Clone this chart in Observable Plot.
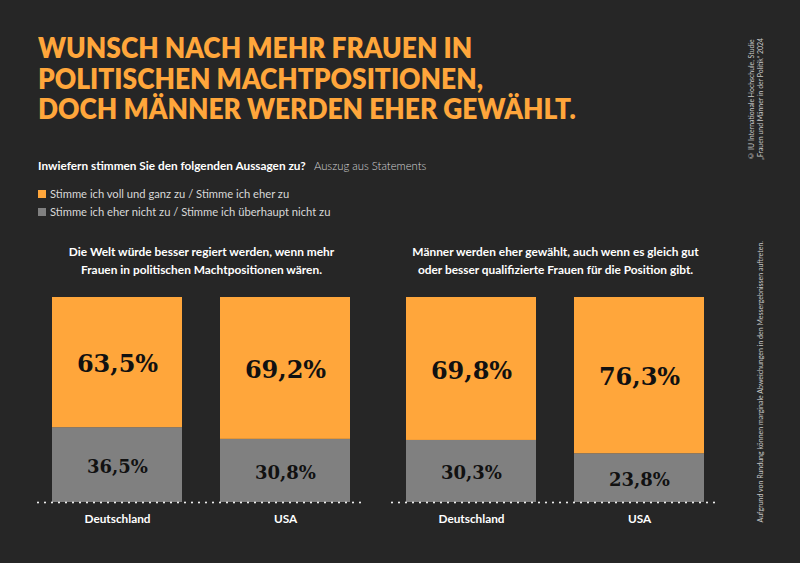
<!DOCTYPE html>
<html lang="de"><head><meta charset="utf-8">
<script src="https://cdn.jsdelivr.net/npm/d3@7"></script>
<script src="https://cdn.jsdelivr.net/npm/@observablehq/plot@0.6"></script>
<style>
html,body{margin:0;padding:0;background:#262626;width:800px;height:563px;overflow:hidden}
body{position:relative;font-family:"Lato",sans-serif;color:#fff}
#hdr{position:relative;height:235px}
h1{position:absolute;left:38px;top:32px;margin:0;font:800 28.5px/30.7px "Lato",sans-serif;color:#ffa63b;white-space:nowrap;transform:scaleX(.925);transform-origin:0 0}
#sub{position:absolute;left:38px;top:156px;line-height:16px;white-space:nowrap}
#sub b{color:#fff;font-size:11.8px}#sub span{color:#d4d4d4;margin-left:4px;font-size:11.3px;font-weight:300}
.lg{position:absolute;left:38px;font-size:11.2px;line-height:16px;color:#d8d8d8;white-space:nowrap}
.lg i{display:inline-block;width:8px;height:8px;margin-right:4px}
.side{position:absolute;writing-mode:vertical-rl;transform:rotate(180deg);line-height:8.8px;color:#c8c8c8;white-space:nowrap}
svg{display:block}
</style></head><body>
<div id="hdr"></div>
<div id="chart"></div>
<script>
const titleLines = ["WUNSCH NACH MEHR FRAUEN IN","POLITISCHEN MACHTPOSITIONEN,","DOCH MÄNNER WERDEN EHER GEWÄHLT."];
const question = "Inwiefern stimmen Sie den folgenden Aussagen zu?";
const excerpt = "Auszug aus Statements";
const answers = ["Stimme ich eher nicht zu / Stimme ich überhaupt nicht zu","Stimme ich voll und ganz zu / Stimme ich eher zu"];
const colors = ["#808080","#ffa63b"];
const statements = ["Die Welt würde besser regiert werden, wenn mehr\nFrauen in politischen Machtpositionen wären.","Männer werden eher gewählt, auch wenn es gleich gut\noder besser qualifizierte Frauen für die Position gibt."];
const countries = ["Deutschland","USA"];
const agree = [63.5,69.2,69.8,76.3];
const disagree = [36.5,30.8,30.3,23.8];
const source = ["© IU Internationale Hochschule, Studie","„Frauen und Männer in der Politik“ 2024"];
const note = "Aufgrund von Rundung können marginale Abweichungen in den Messergebnissen auftreten.";

const hdr = document.getElementById("hdr");
const add = (tag, cls, html, css) => {const e=document.createElement(tag); if(cls)e.className=cls; e.innerHTML=html; if(css)e.style.cssText=css; hdr.appendChild(e); return e;};
add("h1","",titleLines.join("<br>"));
add("div","",`<b>${question}</b> <span>${excerpt}</span>`).id="sub";
add("div","lg",`<i style="background:${colors[1]}"></i>${answers[1]}`,"top:186px");
add("div","lg",`<i style="background:${colors[0]}"></i>${answers[0]}`,"top:204px");
add("div","side",source.join("<br>"),"left:747px;top:38px;font-size:6.9px");
add("div","side",note,"left:756px;top:241px;font-size:7px");

const rows = [];
const pct = v => v.toFixed(1).replace(".",",")+"%";
statements.forEach((s,i)=>countries.forEach((c,j)=>{
  const k=i*2+j;
  rows.push({s,c,a:answers[0],v:disagree[k],size:18});
  rows.push({s,c,a:answers[1],v:agree[k],size:24});
}));
const stack = {x:"c",y:"v",fx:"s",order:null,offset:"normalize"};
const chart = Plot.plot({
  width:800,height:328,marginLeft:52,marginRight:96,marginTop:62,marginBottom:61,
  style:{background:"transparent"},
  fx:{domain:statements,paddingInner:56/354,paddingOuter:0,label:null},
  x:{domain:countries,paddingInner:38/168,paddingOuter:0,label:null},
  y:{domain:[0,1],axis:null},
  color:{domain:answers,range:colors},
  marks:[
    Plot.barY(rows,Plot.stackY({...stack,fill:"a"})),
    Plot.text(rows,Plot.stackY({...stack,text:d=>pct(d.v),fontSize:d=>d.size,fontFamily:"DejaVu Serif",fontWeight:700,fill:"#111",dy:2})),
    Plot.ruleY([0],{stroke:"#fff",strokeWidth:2,strokeLinecap:"round",strokeDasharray:"0 7",insetLeft:-14,insetRight:-13}),
    Plot.axisX({anchor:"bottom",tickSize:0,tickPadding:12,fill:"#fff",fontFamily:"Lato",fontWeight:700,fontSize:11.8,label:null}),
    Plot.axisFx({anchor:"top",tickSize:0,tickPadding:24,fill:"#fff",fontFamily:"Lato",fontWeight:700,fontSize:11.9,label:null,lineHeight:1.5})
  ]
});
document.getElementById("chart").appendChild(chart);
</script>
</body></html>
